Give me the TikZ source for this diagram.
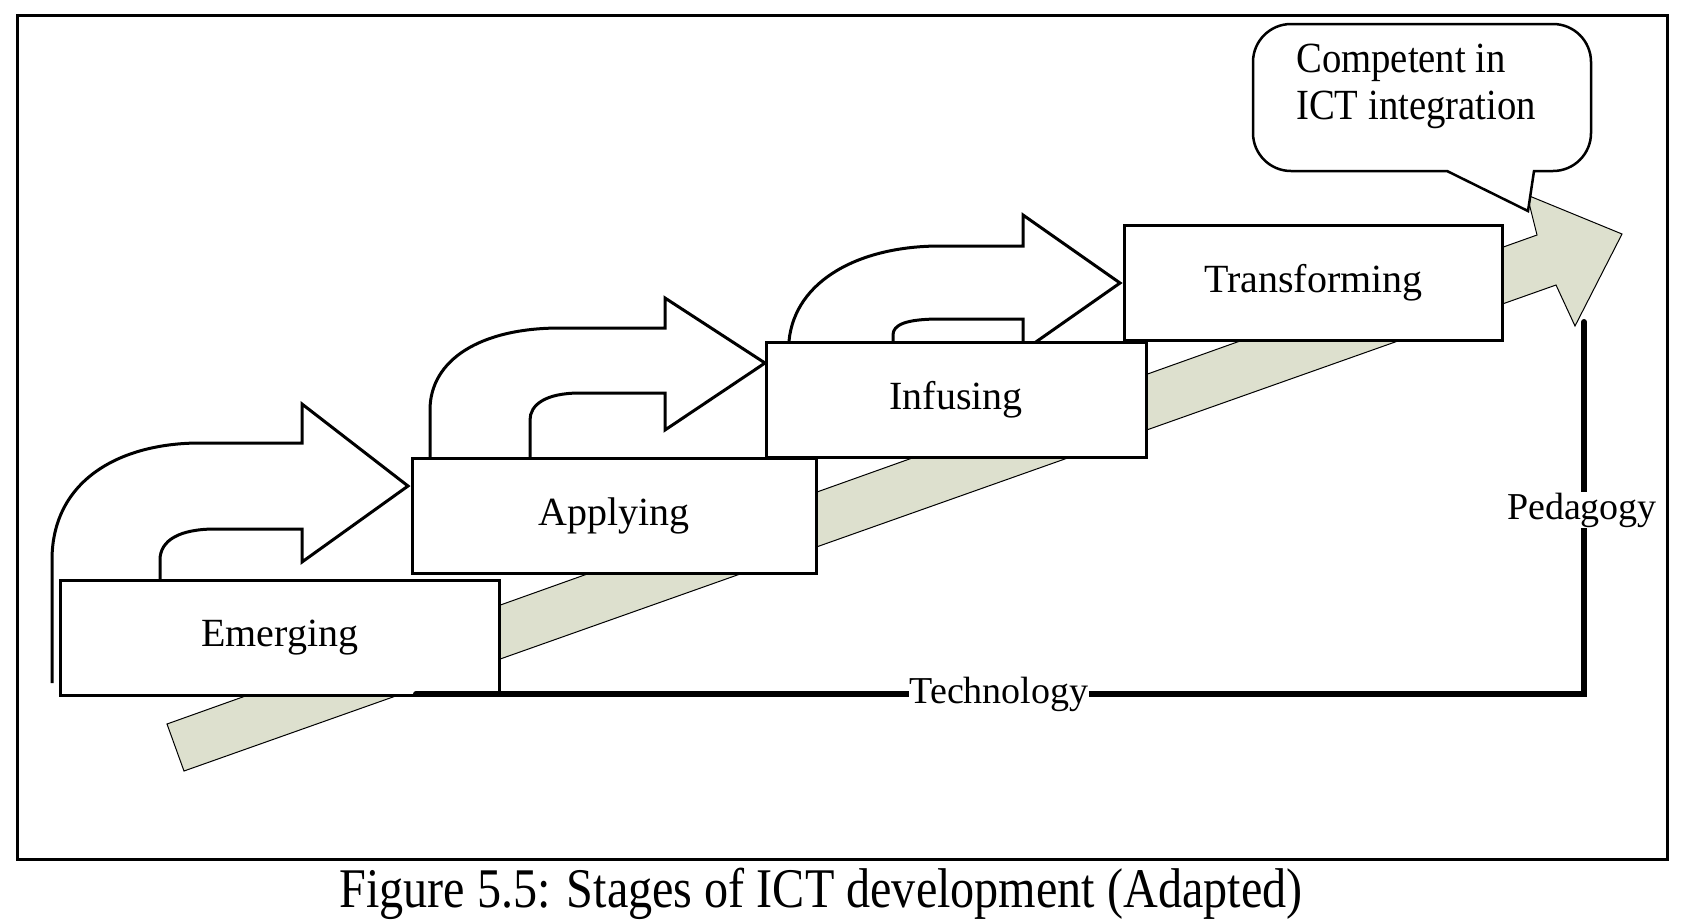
\documentclass[tikz,border=0pt]{standalone}
\usepackage{fontspec}
\setmainfont{Liberation Serif}
\begin{document}
\begin{tikzpicture}[x=1pt,y=-1pt,
  stage/.style={draw,line width=2.5pt,fill=white,minimum width=#1,minimum height=115pt,font=\fontsize{40}{44}\selectfont,inner sep=0pt},
  bent/.style={draw,line width=3pt,fill=white,line join=miter},
  axis/.style={line width=6pt,line cap=round}]
\useasboundingbox (0,0) rectangle (1685,922);
\draw[line width=3pt] (17,15) rectangle (1667,859);
% green arrow
\fill[fill={rgb,255:red,221;green,224;blue,206},draw=black,line width=1pt]
 (167,724) -- (1537,235) -- (1527,195) -- (1622,234) -- (1575,326) -- (1556,285) -- (184,771) -- cycle;
% bent arrows
\path[bent] (52,683) -- (52,560) .. controls (52,480) and (120,443) .. (200,443) -- (302,443) -- (302,404) -- (408,486) -- (302,562) -- (302,529) -- (215,529) .. controls (180,529) and (160,540) .. (160,560) -- (160,579);
\path[bent] (430,457) -- (430,410) .. controls (430,360) and (480,328) .. (560,328) -- (665,328) -- (665,298) -- (765,363) -- (665,430) -- (665,393) -- (580,393) .. controls (545,393) and (530,405) .. (530,420) -- (530,457);
\path[bent] (789,341) .. controls (795,280) and (860,246) .. (940,246) -- (1023,246) -- (1023,215) -- (1120,283) -- (1023,351) -- (1023,319) -- (940,319) .. controls (905,319) and (893,325) .. (893,335) -- (893,341);
% boxes
\node[stage=439pt,anchor=north west] (em) at (59,579) {Emerging};
\node[stage=404pt,anchor=north west] (ap) at (411,457) {Applying};
\node[stage=380pt,anchor=north west] (in) at (765,341) {Infusing};
\node[stage=378pt,anchor=north west] (tr) at (1123,224) {Transforming};
% axes
\coordinate (t0) at (416,694);
\coordinate (corner) at (1584,694);
\coordinate (p1) at (1584,322);
\draw[axis] (t0) -- (corner) -- (p1);
\node[fill=white,inner sep=1pt,font=\fontsize{38}{40}\selectfont] (tech) at (999,694) {Technology};
\node[fill=white,inner sep=1pt,font=\fontsize{38}{40}\selectfont] (ped) at (1582,510) {Pedagogy};
% callout
\draw[line width=2.5pt,fill=white] (1447,171) [rounded corners=38pt] -- (1253,171) -- (1253,24) -- (1591,24) -- (1591,171) [sharp corners] -- (1534,171) -- (1528,211) -- cycle;
\node[anchor=north west,align=left,inner sep=0pt,font=\fontsize{43}{47}\selectfont] (comp) at (1296,44) {\scalebox{.9}[1]{Competent in}\\\scalebox{.9}[1]{ICT integration}};
% caption
\node[anchor=base,inner sep=0pt] (cap) at (821,907) {\scalebox{.86}[1]{\fontsize{56}{60}\selectfont Figure 5.5: Stages of ICT development (Adapted)}};
\end{tikzpicture}
\end{document}
